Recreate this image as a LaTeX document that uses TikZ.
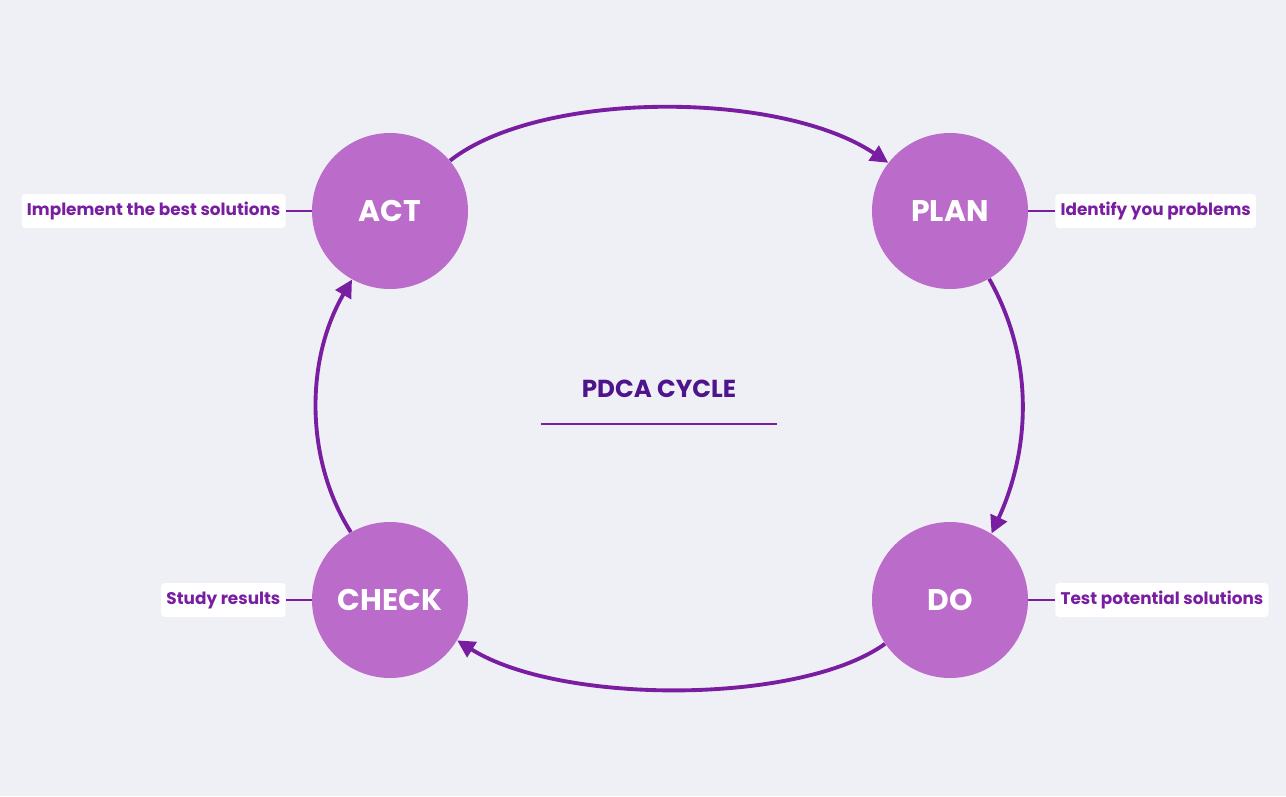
\documentclass[tikz,border=0pt]{standalone}
\usepackage{fontspec}
\setmainfont{Poppins}
\usetikzlibrary{arrows.meta}
\definecolor{bg}{HTML}{EEF0F5}
\definecolor{circ}{HTML}{BB6BC9}
\definecolor{arr}{HTML}{7A1EA1}
\definecolor{ttl}{HTML}{4E148C}
\tikzset{
  phase/.style={circle,fill=circ,minimum size=156*0.02cm,inner sep=0pt,text=white,font=\bfseries\fontsize{17}{20}\selectfont},
  lbl/.style={fill=white,rounded corners=2pt,text=arr,font=\bfseries\fontsize{9.6}{11}\selectfont,minimum height=34*0.02cm,inner xsep=3pt},
  cyc/.style={draw=arr,line width=2.2pt,-{Triangle[length=10pt,width=10pt]}},
  tick/.style={draw=arr,line width=1pt}
}
\begin{document}
\begin{tikzpicture}[x=0.02cm,y=-0.02cm]
\fill[bg] (0,0) rectangle (1286,796);
\useasboundingbox (0,0) rectangle (1286,796);
\node[phase] (act) at (390,211) {ACT};
\node[phase] (plan) at (950,211) {PLAN};
\node[phase] (check) at (390,600) {CHECK};
\node[phase] (do) at (950,600) {DO};
\node[lbl,anchor=east] (l1) at (286,211) {Implement the best solutions};
\node[lbl,anchor=west] (l2) at (1055,211) {Identify you problems};
\node[lbl,anchor=east] (l3) at (286,600) {Study results};
\node[lbl,anchor=west] (l4) at (1055,600) {Test potential solutions};
\draw[tick] (l1.east) -- (act.west);
\draw[tick] (l2.west) -- (plan.east);
\draw[tick] (l3.east) -- (check.west);
\draw[tick] (l4.west) -- (do.east);
\draw[cyc] (act.40) .. controls (540,90) and (780,90) .. (plan.142);
\draw[cyc] (plan.-60) .. controls (1035,360) and (1030,450) .. (do.58);
\draw[cyc] (do.214) .. controls (800,705) and (560,705) .. (check.-31);
\draw[cyc] (check.120) .. controls (305,460) and (305,360) .. (act.241);
\node[text=ttl,font=\bfseries\fontsize{14}{16}\selectfont] (title) at (659,389) {PDCA CYCLE};
\coordinate (u1) at (541,424);
\coordinate (u2) at (777,424);
\draw[draw=arr,line width=1.2pt] (u1) -- (u2);
\end{tikzpicture}
\end{document}
